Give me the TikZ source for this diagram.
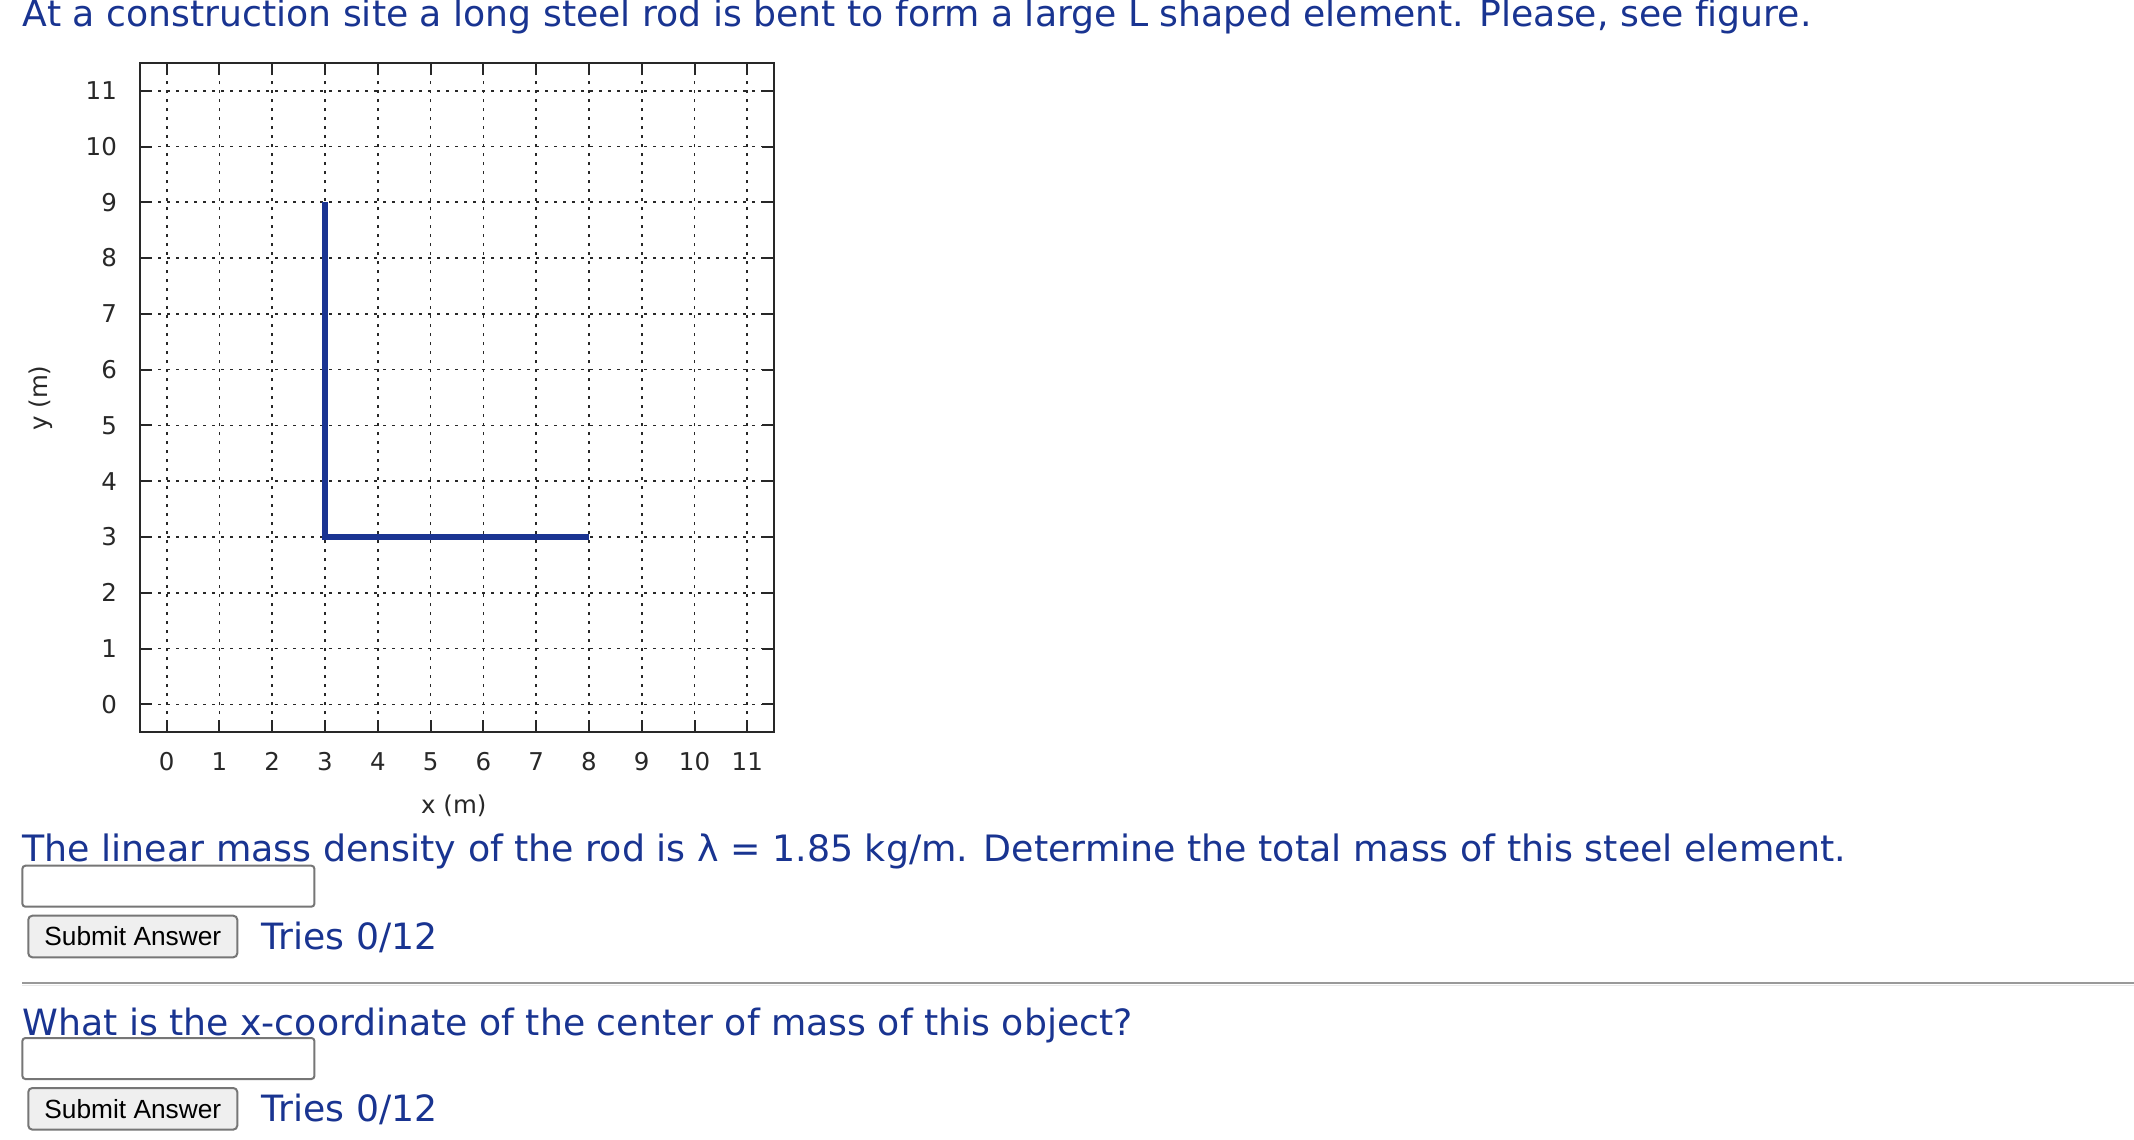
\documentclass[tikz,border=0pt]{standalone}
\usepackage{fontspec}
\setmainfont{DejaVu Sans}[Ligatures=NoCommon]
\newfontfamily\btnfont{Liberation Sans}
\definecolor{qblue}{RGB}{25,52,145}
\definecolor{axisgray}{RGB}{40,40,40}
\definecolor{rodblue}{RGB}{26,52,146}
\definecolor{boxgray}{RGB}{118,118,118}
\definecolor{btnfill}{RGB}{239,239,239}
\definecolor{rulegray}{RGB}{153,153,153}
\definecolor{rulelight}{RGB}{232,232,232}
\begin{document}
\begin{tikzpicture}[x=1pt,y=-1pt,
  qtext/.style={anchor=base west, inner sep=0pt, text=qblue, font=\fontsize{36.2}{44}\selectfont},
  gridline/.style={axisgray, line width=1.6pt, dash pattern=on 3pt off 6pt},
  tickmark/.style={axisgray, line width=2pt},
  frameline/.style={axisgray, line width=2pt},
  ticklabel/.style={inner sep=0pt, text=axisgray, font=\fontsize{24.5}{28}\selectfont},
  rodline/.style={rodblue, line width=5.5pt, line join=miter},
  inbox/.style={draw=boxgray, line width=2pt, fill=white, rounded corners=3pt, minimum width=292pt, minimum height=41pt, inner sep=0pt},
  btn/.style={draw=boxgray, line width=2pt, fill=btnfill, rounded corners=4pt, minimum width=209pt, minimum height=41.6pt, inner sep=0pt, font=\btnfont\fontsize{26.3}{30}\selectfont, text=black},
]
\useasboundingbox[fill=white] (0,0) rectangle (2134,1140);

\node[qtext] (title) at (22.7,26.7) {At a construction site a long steel rod is bent to form a large L shaped element. Please, see figure.};

\begin{scope}[shift={(166.7pt,-704.3pt)}, x=52.78pt, y=55.78pt]
  \foreach \i in {0,...,11} {
    \draw[gridline] (\i,-0.5) -- (\i,11.5);
    \draw[gridline] (-0.5,\i) -- (11.5,\i);
  }
  \foreach \i in {0,...,11} {
    \draw[tickmark] (\i,-0.5) -- ++(0,12pt);
    \draw[tickmark] (\i,11.5) -- ++(0,-12pt);
    \draw[tickmark] (-0.5,\i) -- ++(12pt,0);
    \draw[tickmark] (11.5,\i) -- ++(-12pt,0);
  }
  \draw[frameline] (-0.5,-0.5) rectangle (11.5,11.5);
  \foreach \i in {0,...,11} {
    \node[ticklabel] (xl\i) at (\i,-1.03) {\i};
    \node[ticklabel, anchor=east] (yl\i) at (-0.94,\i) {\i};
  }
  \node[ticklabel] (xlab) at (5.44,-1.82) {x (m)};
  \node[ticklabel, rotate=90] (ylab) at (-2.38,5.49) {y (m)};
  \coordinate (rodtop) at (3,9);
  \coordinate (rodcorner) at (3,3);
  \coordinate (rodend) at (8,3);
  \draw[rodline] (rodtop) -- (rodcorner) -- (rodend);
\end{scope}

\node[qtext, font=\fontsize{36.35}{44}\selectfont] (q1) at (22.3,861) {The linear mass density of the rod is λ = 1.85 kg/m. Determine the total mass of this steel element.};
\node[inbox] (ans1) at (168.4,886.2) {};
\node[btn] (sub1) at (132.8,936.5) {Submit Answer};
\node[qtext] (tries1) at (261.7,949) {Tries 0/12};

\coordinate (ruleL) at (22.3,983);
\coordinate (ruleR) at (2134,983);
\coordinate (ruleL2) at (22.3,985.5);
\coordinate (ruleR2) at (2134,985.5);
\draw[rulegray, line width=2.5pt] (ruleL) -- (ruleR);
\draw[rulelight, line width=1.5pt] (ruleL2) -- (ruleR2);

\node[qtext] (q2) at (22.3,1035) {What is the x-coordinate of the center of mass of this object?};
\node[inbox] (ans2) at (168.4,1058.5) {};
\node[btn] (sub2) at (132.8,1108.8) {Submit Answer};
\node[qtext] (tries2) at (261.7,1121.3) {Tries 0/12};
\end{tikzpicture}
\end{document}
